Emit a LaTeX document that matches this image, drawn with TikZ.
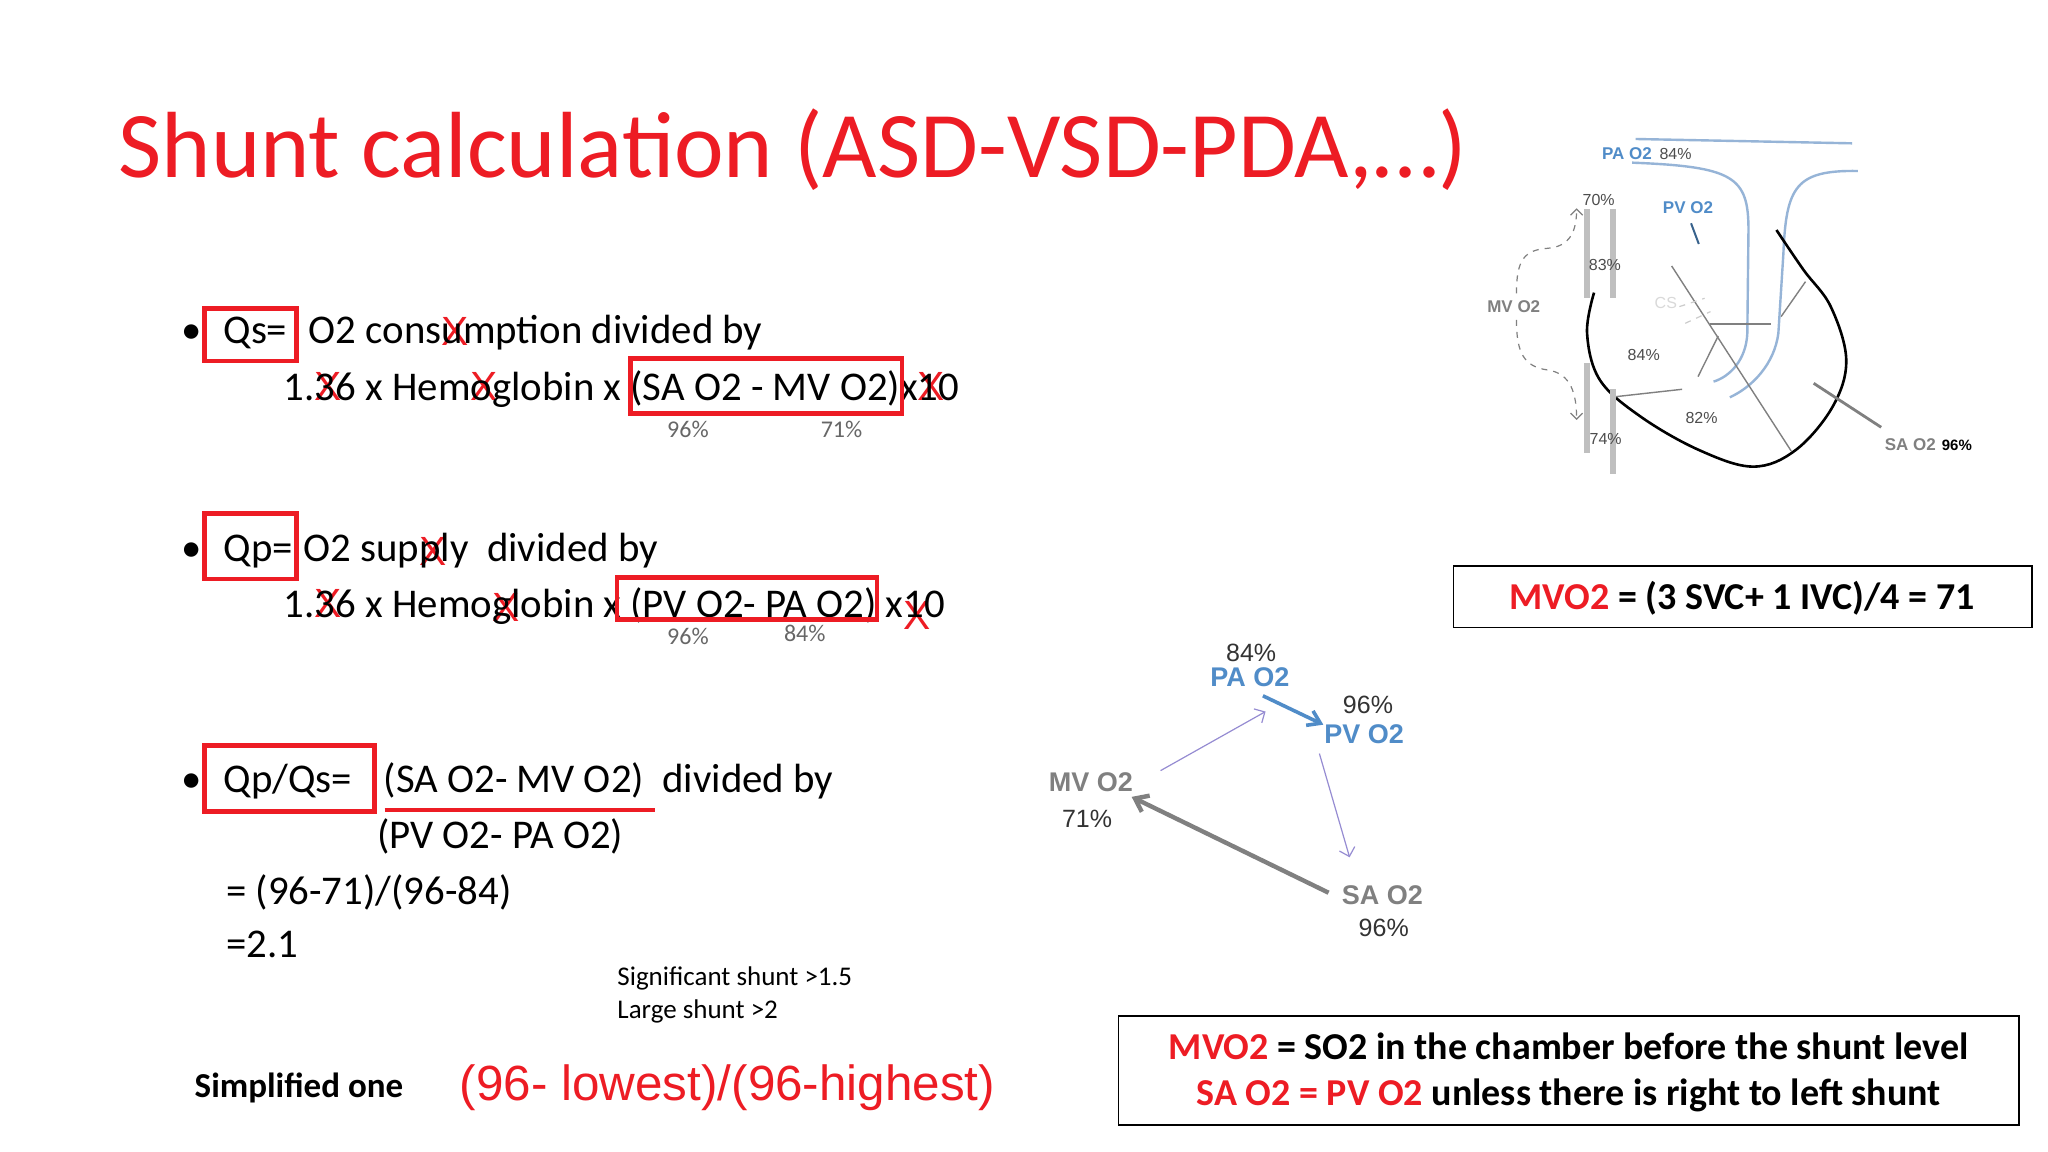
\documentclass[tikz,border=0pt]{standalone}
\usepackage{fontspec}
\setmainfont{Carlito}
\newfontfamily\arial{Liberation Sans}
\usetikzlibrary{arrows.meta}
\definecolor{tred}{RGB}{237,28,36}
\definecolor{pblue}{RGB}{80,140,200}
\definecolor{lblue}{RGB}{150,180,215}
\definecolor{gtxt}{RGB}{128,128,128}
\definecolor{purp}{RGB}{150,140,210}
\newcommand{\xo}[1]{\makebox[0pt][l]{\raisebox{#1}{\textcolor{tred}{\arial X}}}}
\begin{document}
\begin{tikzpicture}[x=0.65641pt,y=-0.65641pt,
  body/.style={inner sep=0,anchor=base west,font=\fontsize{20.4}{22}\selectfont},
  small/.style={inner sep=0,anchor=base,text=gtxt!80!black,font=\fontsize{12}{14}\selectfont},
  rbox/.style={draw=tred,line width=2.4pt},
  bx/.style={inner sep=0,anchor=base,font=\bfseries\fontsize{19}{22}\selectfont},
  hl/.style={inner sep=0,font=\arial\fontsize{8}{9}\selectfont,text=gtxt!60!black},
  cyc/.style={inner sep=0,font=\arial\bfseries\fontsize{13.5}{15}\selectfont},
  cycp/.style={inner sep=0,font=\arial\fontsize{12.5}{14}\selectfont,text=black!80}]
\useasboundingbox (0,0) rectangle (1560,877.5);
\fill[white] (0,0) rectangle (1560,877.5);
% title
\node[inner sep=0,anchor=base west,text=tred,font=\fontsize{47}{52}\selectfont] (title) at (90,135) {Shunt calculation (ASD-VSD-PDA,…)};
% Qs
\node[body] (b1) at (138,262) {•};
\node[body] (qs) at (170,262) {Qs=};
\node[body] (qs1) at (235,262) {O2 cons\xo{-1pt}umption divided by};
\draw[rbox] (156,235) rectangle (226,275);
\node[body] (qs2) at (216,305) {1.\xo{0pt}36 x Hem\xo{0pt}oglobin x (SA O2 - MV O2)x\xo{0pt}10};
\draw[rbox] (480,273) rectangle (687,315);
\node[small] (p1) at (524,333) {96\%};
\node[small] (p2) at (641,333) {71\%};
% Qp
\node[body] (b2) at (138,428) {•};
\node[body] (qp) at (170,428) {Qp=};
\node[body] (qp1) at (231,428) {O2 sup\xo{-2pt}ply\ \ divided by};
\draw[rbox] (156,391) rectangle (226,441);
\node[body] (qp2) at (216,470) {1.\xo{0pt}36 x Hemo\xo{-2pt}globin x (PV O2- PA O2) x\xo{-6pt}10};
\draw[rbox] (470,440) rectangle (668,472);
\node[small] (p3) at (524,491) {96\%};
\node[small] (p4) at (613,489) {84\%};
% Qp/Qs
\node[body] (b3) at (138,604) {•};
\node[body] (qq) at (170,604) {Qp/Qs=};
\draw[rbox] (156,568) rectangle (285,618);
\node[body] (qq1) at (292,604) {(SA O2- MV O2)\ \ divided by};
\draw[tred,line width=2.4pt] (293,617) -- (499,617);
\node[body] (qq2) at (287,646) {(PV O2- PA O2)};
\node[body] (qq3) at (172,689) {= (96-71)/(96-84)};
\node[body] (qq4) at (172,729) {=2.1};
\node[inner sep=0,anchor=base west,font=\fontsize{13.5}{15}\selectfont] (s1) at (470,751) {Significant shunt >1.5};
\node[inner sep=0,anchor=base west,font=\fontsize{13.5}{15}\selectfont] (s2) at (470,776) {Large shunt >2};
\node[inner sep=0,anchor=base west,font=\bfseries\fontsize{17.5}{20}\selectfont] (simp) at (148,836) {Simplified one};
\node[inner sep=0,anchor=base west,text=tred,font=\arial\fontsize{24.7}{27}\selectfont] (simpf) at (350,838) {(96- lowest)/(96-highest)};
% boxes
\draw[line width=0.8pt] (1107,431) rectangle (1548,478);
\node[bx] (mv) at (1327,464) {\textcolor{tred}{MVO2} = (3 SVC+ 1 IVC)/4 = 71};
\draw[line width=0.8pt] (852,774) rectangle (1538,857);
\node[bx] (l1) at (1195,807) {\textcolor{tred}{MVO2} = SO2 in the chamber before the shunt level};
\node[bx] (l2) at (1195,842) {\textcolor{tred}{SA O2 = PV O2} unless there is right to left shunt};
% cycle
\node[cycp] (c84) at (953,497) {84\%};
\node[cyc,text=pblue] (cpa) at (952,516) {PA O2};
\node[cycp] (c96) at (1042,537) {96\%};
\node[cyc,text=pblue] (cpv) at (1039,559) {PV O2};
\node[cyc,text=gtxt] (cmv) at (831,596) {MV O2};
\node[cycp] (c71) at (828,624) {71\%};
\node[cyc,text=gtxt] (csa) at (1053,682) {SA O2};
\node[cycp] (c96b) at (1054,707) {96\%};
\coordinate (a1) at (884,587); \coordinate (a2) at (964,542);
\coordinate (a3) at (962,530); \coordinate (a4) at (1008,552);
\coordinate (a5) at (1005,574); \coordinate (a6) at (1028,653);
\coordinate (a7) at (1012,680); \coordinate (a8) at (862,607);
\draw[purp,line width=0.6pt,-{Straight Barb[length=4pt]}] (a1) -- (a2);
\draw[pblue,line width=1.8pt,-{Straight Barb[length=6pt,width=8pt]}] (a3) -- (a4);
\draw[purp,line width=0.6pt,-{Straight Barb[length=4pt]}] (a5) -- (a6);
\draw[gtxt,line width=2.2pt,-{Straight Barb[length=6pt,width=9pt]}] (a7) -- (a8);
% heart
\begin{scope}[shift={(1101.9,91.4)},x=0.194pt,y=-0.16664pt]
\draw[lblue,line width=1.2pt] (487,57) -- (1045,70);
\draw[lblue,line width=1.2pt] (478,128) .. controls (740,140) and (778,170) .. (778,330) -- (775,640) .. controls (772,720) and (730,770) .. (688,785);
\draw[lblue,line width=1.2pt] (1060,153) .. controls (900,150) and (875,200) .. (868,400) -- (855,640) .. controls (845,730) and (790,800) .. (730,832);
\draw[pblue!70!black,line width=1pt] (630,310) -- (650,372);
\draw[black,line width=1.3pt] plot[smooth,tension=0.6] coordinates {(380,518) (362,640) (395,780) (500,890) (650,990) (790,1040) (900,990) (995,860) (1030,720) (990,560) (920,450) (850,330)};
\draw[gray,line width=0.7pt] (580,438) -- (888,993);
\draw[gray,line width=0.7pt] (680,612) -- (835,612);
\draw[gray,line width=0.7pt] (700,648) -- (648,770);
\draw[gray,line width=0.7pt] (862,590) -- (925,485);
\draw[gray,line width=0.7pt] (437,830) -- (607,808);
\draw[gray,line width=1.4pt] (946,790) -- (1120,922);
\draw[black!20,dashed,line width=0.6pt] (600,560) -- (665,535) (615,610) -- (680,575);
\draw[black!25,line width=3pt] (363,268) -- (363,535) (430,268) -- (430,535) (363,730) -- (363,1000) (430,808) -- (430,1062);
\draw[gray,dashed,line width=0.6pt,-{Straight Barb[length=3pt]}] (180,520) .. controls (180,420) and (200,390) .. (260,385) .. controls (320,380) and (335,330) .. (335,265);
\draw[gray,dashed,line width=0.6pt,-{Straight Barb[length=3pt]}] (180,600) .. controls (180,700) and (200,740) .. (260,750) .. controls (320,760) and (335,820) .. (335,900);
\node[hl] (h70) at (392,240) {70\%};
\node[hl] (h83) at (408,435) {83\%};
\node[hl] (h84) at (508,705) {84\%};
\node[hl] (h82) at (657,895) {82\%};
\node[hl] (h74) at (410,958) {74\%};
\node[hl,font=\arial\bfseries\fontsize{8.5}{9}\selectfont,text=gtxt] (hmv) at (173,560) {MV O2};
\node[hl,text=black!15] (hcs) at (565,548) {CS};
\node[hl,font=\arial\bfseries\fontsize{8.5}{9}\selectfont,text=pblue] (hpa) at (465,100) {PA O2};
\node[hl] (hpa2) at (590,103) {84\%};
\node[hl,font=\arial\bfseries\fontsize{8.5}{9}\selectfont,text=pblue] (hpv) at (622,262) {PV O2};
\node[hl,font=\arial\bfseries\fontsize{8.5}{9}\selectfont,text=gtxt] (hsa) at (1195,975) {SA O2};
\node[hl,font=\arial\bfseries\fontsize{7.5}{9}\selectfont,text=black] (hsa2) at (1315,975) {96\%};
\end{scope}
\end{tikzpicture}
\end{document}
